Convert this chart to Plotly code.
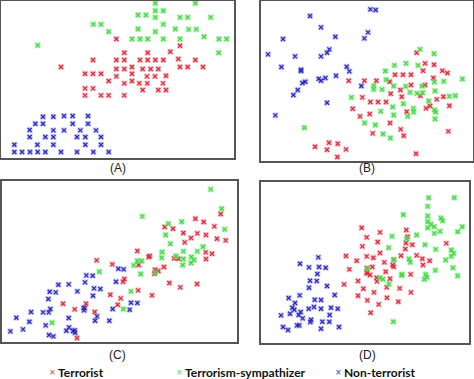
import plotly.graph_objects as go

W, H = 474, 379

# ---- data (feature-space coordinates; y grows downward) ----
A_terrorist = [(349,117),(540,137),(373,158),(443,158),(511,155),(279,180),(349,180),(373,180),(420,180),(443,180),(466,180),(490,180),(535,177),(586,180),(183,201),(349,207),(373,207),(396,201),(428,207),(452,207),(475,207),(540,201),(563,201),(609,201),(255,221),(279,221),(303,221),(396,221),(349,229),(441,229),(465,229),(498,227),(326,243),(373,250),(396,243),(418,250),(442,250),(489,250),(255,265),(279,265),(428,270),(475,270),(498,270),(255,286),(303,286),(326,286),(373,286)]
A_sympathizer = [(466,10),(586,10),(466,32),(490,32),(414,45),(438,45),(466,52),(540,52),(563,52),(632,52),(280,73),(303,73),(490,73),(414,87),(526,87),(566,88),(589,88),(326,95),(466,95),(612,110),(396,117),(420,117),(443,117),(490,117),(540,117),(657,117),(680,117),(113,136),(656,158)]
A_nonterrorist = [(129,350),(160,350),(192,348),(218,348),(264,348),(106,371),(129,371),(218,371),(264,371),(89,390),(160,391),(192,391),(241,391),(288,391),(89,411),(136,411),(160,411),(231,411),(256,411),(303,411),(43,434),(112,434),(160,434),(256,434),(303,434),(43,456),(66,456),(90,456),(113,456),(136,456),(183,456),(231,456),(280,456),(326,456)]

B_terrorist = [(530,158),(555,190),(582,194),(549,212),(607,212),(622,219),(580,234),(465,224),(489,224),(513,224),(326,242),(373,242),(409,242),(449,245),(513,255),(555,255),(481,270),(452,281),(485,290),(367,292),(391,306),(414,306),(438,306),(541,287),(610,290),(590,298),(628,317),(570,318),(558,325),(500,335),(338,326),(389,342),(360,349),(450,369),(482,388),(491,407),(398,400),(625,394),(528,461),(225,440),(267,428),(293,431),(261,449),(318,448),(292,471)]
B_sympathizer = [(540,148),(582,161),(463,196),(498,190),(534,196),(436,213),(438,239),(401,257),(401,268),(426,268),(461,258),(497,259),(546,258),(583,246),(611,244),(667,237),(510,277),(531,280),(548,278),(585,273),(628,289),(646,287),(334,292),(566,303),(490,311),(458,321),(422,334),(461,345),(520,325),(521,336),(503,349),(583,330),(587,336),(585,357),(374,369),(406,375),(429,402),(451,414),(193,383)]
B_nonterrorist = [(391,28),(407,30),(210,48),(243,82),(129,117),(286,110),(384,97),(373,115),(268,148),(261,158),(84,163),(165,169),(243,169),(124,201),(183,209),(183,213),(320,200),(328,214),(288,227),(236,236),(243,242),(256,234),(196,245),(187,249),(173,270),(160,285),(364,258),(261,308),(106,346)]

C_terrorist = [(662,117),(586,131),(611,141),(494,156),(519,161),(643,154),(550,174),(592,175),(573,189),(618,180),(651,191),(677,196),(554,202),(617,232),(636,236),(412,228),(446,246),(449,243),(522,250),(535,251),(618,252),(290,256),(337,268),(416,270),(492,276),(465,284),(475,288),(463,296),(373,312),(369,320),(508,324),(541,337),(591,327),(414,346),(331,359),(362,370),(456,361),(189,386),(258,386),(353,389),(224,403),(255,400),(284,411),(231,489)]
C_sympathizer = [(632,43),(665,101),(427,124),(545,140),(505,146),(497,180),(674,163),(511,206),(609,215),(550,229),(592,229),(486,231),(528,243),(485,248),(574,246),(550,252),(582,255),(412,257),(425,258),(401,271),(548,270),(573,264),(422,297),(466,292),(298,290),(393,349),(370,402),(156,443)]
C_nonterrorist = [(355,281),(371,283),(259,301),(278,302),(255,322),(348,320),(175,329),(206,328),(282,340),(301,342),(149,350),(167,352),(232,349),(279,362),(145,372),(393,383),(412,384),(338,402),(389,404),(151,402),(93,411),(129,412),(146,412),(251,398),(252,406),(291,424),(49,428),(88,440),(206,429),(285,437),(328,437),(137,451),(207,457),(69,463),(31,469),(199,467),(219,468),(224,466),(225,473),(147,480),(160,484)]

D_terrorist = [(365,158),(420,172),(499,165),(380,187),(413,201),(503,185),(498,204),(517,209),(367,214),(496,222),(619,205),(420,234),(318,243),(380,244),(400,248),(483,242),(530,241),(547,251),(569,257),(350,257),(461,254),(433,262),(458,270),(461,275),(328,283),(381,279),(397,276),(549,270),(437,290),(380,293),(382,295),(390,300),(410,308),(450,311),(411,319),(512,298),(354,318),(312,328),(440,337),(370,341),(479,340),(402,352),(513,352),(354,362),(441,368),(382,376),(475,380),(416,388),(392,413)]
D_sympathizer = [(566,68),(643,68),(563,94),(490,119),(563,123),(603,129),(608,137),(563,140),(573,148),(563,158),(583,155),(667,155),(653,170),(600,169),(583,175),(530,180),(456,184),(500,191),(555,209),(446,218),(587,223),(634,225),(641,235),(634,244),(462,254),(507,252),(511,262),(617,255),(639,278),(586,286),(382,281),(486,298),(485,301),(557,298),(653,302),(553,313),(561,307),(420,308),(429,313),(447,327),(460,440)]
D_nonterrorist = [(235,247),(180,266),(207,277),(237,276),(257,278),(232,297),(210,317),(230,318),(207,338),(261,333),(179,361),(284,360),(146,369),(224,374),(243,375),(165,384),(157,398),(163,404),(182,411),(206,401),(222,396),(243,401),(273,398),(293,401),(123,421),(150,416),(176,420),(188,430),(213,434),(211,441),(247,440),(268,440),(269,420),(129,456),(144,465),(171,451),(178,451),(243,461),(297,456)]

class_names = ["Terrorist", "Terrorism-sympathizer", "Non-terrorist"]
class_colors = ["#dc2a3c", "#44d844", "#2828c0"]
halo_colors = ["rgba(235,120,130,0.35)", "rgba(120,230,120,0.45)", "rgba(130,130,220,0.35)"]
panel_labels = ["(A)", "(B)", "(C)", "(D)"]

panels = [
    [A_terrorist, A_sympathizer, A_nonterrorist],
    [B_terrorist, B_sympathizer, B_nonterrorist],
    [C_terrorist, C_sympathizer, C_nonterrorist],
    [D_terrorist, D_sympathizer, D_nonterrorist],
]
# axis ranges (feature space) and box placement (pixels)
ranges = [((2, 703), (473, 3)), ((62, 698), (483, 2)), ((5, 711), (500, 18)), ((62, 688), (503, 20))]
boxes = [(0.7, 234.3, 1.0, 157.7), (260.7, 472.7, 0.7, 161.0), (1.7, 237.0, 181.0, 341.7), (260.7, 469.3, 181.7, 342.7)]
label_pos = [(118, 168), (367, 168), (117, 355), (367, 355)]

fig = go.Figure()
for i, (series, (xr, yr), (x0, x1, y0, y1)) in enumerate(zip(panels, ranges, boxes)):
    n = "" if i == 0 else str(i + 1)
    for pts, color, halo in zip(series, class_colors, halo_colors):
        xs = [p[0] for p in pts]
        ys = [p[1] for p in pts]
        fig.add_trace(go.Scatter(
            x=xs, y=ys, mode="markers", xaxis="x" + n, yaxis="y" + n,
            showlegend=False, hoverinfo="skip", cliponaxis=False,
            marker=dict(symbol="square", size=6, color=halo, line=dict(width=0))))
        fig.add_trace(go.Scatter(
            x=xs, y=ys, mode="markers", xaxis="x" + n, yaxis="y" + n,
            showlegend=False, hoverinfo="skip", cliponaxis=False,
            marker=dict(symbol="x-thin", size=4, line=dict(width=1.3, color=color), color=color)))
    ax = dict(showgrid=False, zeroline=False, showticklabels=False, ticks="",
              showline=True, mirror=True, linecolor="#555555", linewidth=1.5)
    fig.layout["xaxis" + n] = dict(ax, range=list(xr), domain=[x0 / W, x1 / W],
                                   anchor="y" + n)
    fig.layout["yaxis" + n] = dict(ax, range=list(yr), domain=[1 - y1 / H, 1 - y0 / H],
                                   anchor="x" + n)

annotations = []
for lab, (px, py) in zip(panel_labels, label_pos):
    annotations.append(dict(text=lab, x=px / W, y=1 - py / H, xref="paper", yref="paper",
                            showarrow=False, xanchor="center", yanchor="middle",
                            font=dict(family="Liberation Sans", size=12, color="#222222")))

legend_x = [52, 179, 338]
for name, color, lx in zip(class_names, class_colors, legend_x):
    annotations.append(dict(text="×", x=lx / W, y=1 - 372 / H, xref="paper", yref="paper",
                            showarrow=False, xanchor="center", yanchor="middle",
                            font=dict(family="DejaVu Sans", size=8, color=color)))
    annotations.append(dict(text="<b>" + name + "</b>", x=(lx + 4) / W, y=1 - 372 / H,
                            xref="paper", yref="paper", showarrow=False,
                            xanchor="left", yanchor="middle",
                            font=dict(family="Lato", size=12, color="#111111")))

fig.update_layout(width=W, height=H, margin=dict(l=0, r=0, t=0, b=0),
                  paper_bgcolor="white", plot_bgcolor="white", annotations=annotations)
fig.write_html("out.html", config={"displayModeBar": False},
               post_script="document.body.style.margin='0';")
